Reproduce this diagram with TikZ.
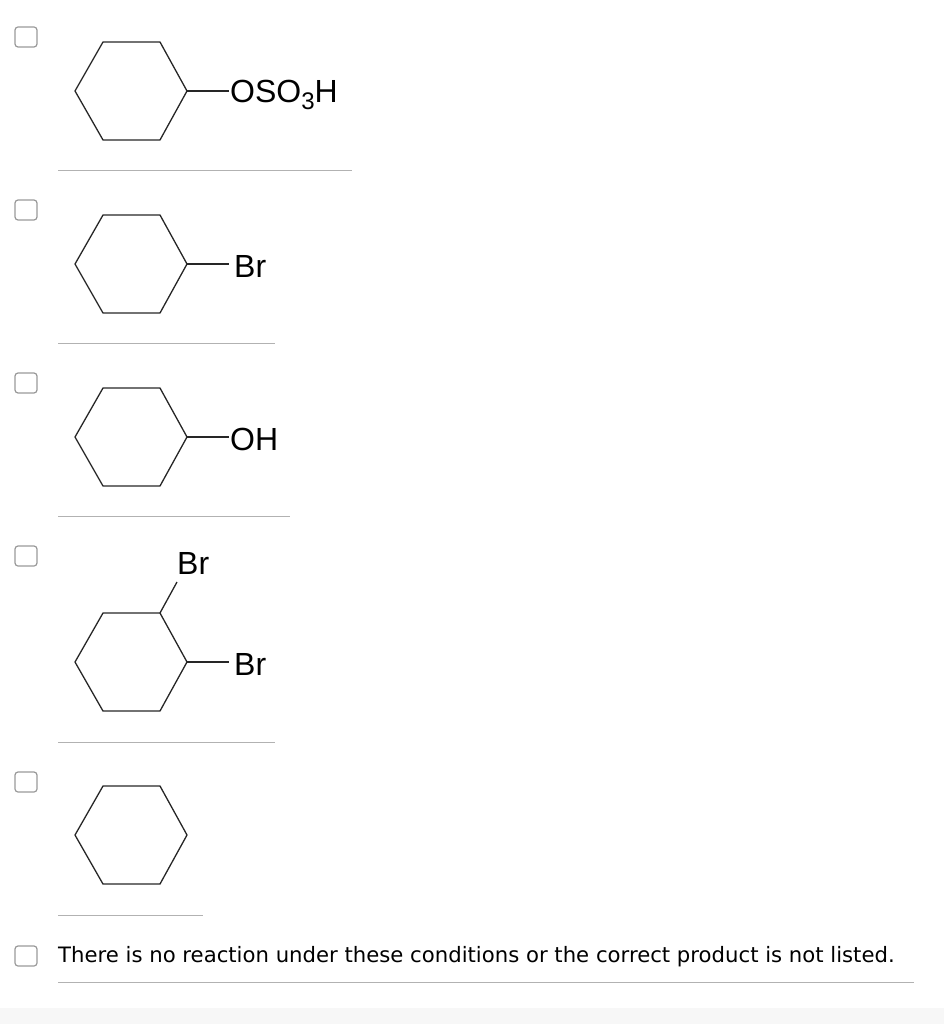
\documentclass[tikz,border=0pt]{standalone}
\usepackage{fontspec}
\setmainfont{Liberation Sans}
\newfontfamily\qfont{DejaVu Sans}
\begin{document}
\begin{tikzpicture}[x=1pt,y=-1pt,
  cbox/.style={draw=gray!80,rounded corners=3pt,line width=1.2pt},
  sep/.style={draw=gray!60,line width=1pt},
  bond/.style={line width=1.3pt,black!85},
  lab/.style={font=\fontsize{32}{32}\selectfont,inner sep=0pt,anchor=west}]
\useasboundingbox (0,0) rectangle (944,1024);
\fill[gray!6] (0,1008) rectangle (944,1024);
% checkboxes
\foreach \y/\n in {37/c1,210/c2,383/c3,556/c4,782/c5,956/c6}
  \draw[cbox] (15,\y-10) rectangle (37,\y+10) coordinate (\n);
% separators
\foreach \y/\xe in {171/352,343/275,516/290,742/275,915/203,982/914}
  \draw[sep] (58,\y) -- (\xe,\y);
% hexagons
\foreach \cy/\n in {91/h1,264/h2,437/h3,662/h4,835/h5}{
  \draw[bond] (75,\cy) -- (103,\cy-49) -- (160,\cy-49) -- (187,\cy) coordinate (\n r) -- (160,\cy+49) -- (103,\cy+49) -- cycle;
  \coordinate (\n tr) at (160,\cy-49);
}
\node[lab] (l1) at (230,95) {OSO\raisebox{-0.4ex}{\fontsize{24}{24}\selectfont 3}H};
\draw[bond] (h1r) -- ++(42,0);
\node[lab] (l2) at (234,266) {Br};
\draw[bond] (h2r) -- ++(42,0);
\node[lab] (l3) at (230,439) {OH};
\draw[bond] (h3r) -- ++(42,0);
\node[lab] (l4) at (234,664) {Br};
\draw[bond] (h4r) -- ++(42,0);
\node[lab] (l5) at (177,563) {Br};
\coordinate (b5) at (177,582);
\draw[bond] (h4tr) -- (b5);
\node[anchor=west,inner sep=0pt,font=\qfont\fontsize{21.2}{21.2}\selectfont] (t) at (58,957) {There is no reaction under these conditions or the correct product is not listed.};
\end{tikzpicture}
\end{document}
